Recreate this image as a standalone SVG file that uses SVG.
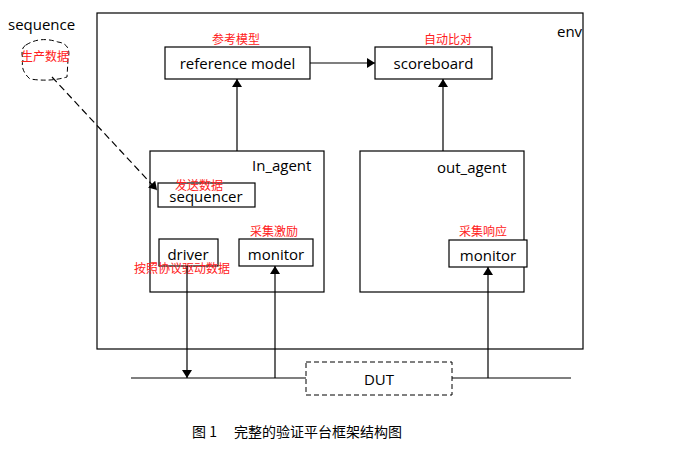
<svg xmlns="http://www.w3.org/2000/svg" width="691" height="451" viewBox="0 0 691 451">
<defs><marker id="ah" markerWidth="8" markerHeight="10" refX="8" refY="5" orient="auto" markerUnits="userSpaceOnUse"><path d="M0,0 L8,5 L0,10 z" fill="#000"/></marker></defs>
<style>
.b{fill:#fff;stroke:#000;stroke-width:1.2}
.t{font-family:"Open Sans","DejaVu Sans",sans-serif;font-size:15px;fill:#000}
.r{font-family:"Noto Sans CJK SC",sans-serif;font-size:12px;fill:#ff2020}
.l{stroke:#000;stroke-width:1.2;fill:none}
</style>
<rect width="691" height="451" fill="#fff"/>
<g id="env"><rect class="b" x="97" y="13" width="486" height="336"/><text class="t" x="557" y="37">env</text></g>
<g id="sequence"><text class="t" x="8" y="30">sequence</text><path d="M26,45 Q40,36 58,42 Q72,44 68,60 L67,77 Q50,82 30,79 Q20,70 23,60 Q20,48 26,45 z" fill="none" stroke="#000" stroke-dasharray="5,3"/><text class="r" x="21" y="61">生产数据</text></g>
<g id="refmodel"><rect class="b" x="165" y="47" width="145" height="32"/><text class="t" x="237.5" y="69" text-anchor="middle">reference model</text><text class="r" x="212" y="44">参考模型</text></g>
<g id="scoreboard"><rect class="b" x="375" y="47" width="117" height="32"/><text class="t" x="433.5" y="69" text-anchor="middle">scoreboard</text><text class="r" x="424" y="44">自动比对</text></g>
<g id="in_agent"><rect class="b" x="150" y="151" width="174" height="141"/><text class="t" x="252" y="171">In_agent</text></g>
<g id="sequencer"><rect class="b" x="158" y="183" width="97" height="24"/><text class="t" x="206" y="202" text-anchor="middle">sequencer</text><text class="r" x="175" y="190">发送数据</text></g>
<g id="driver"><rect class="b" x="159" y="239" width="59" height="27"/><text class="t" x="188" y="260" text-anchor="middle">driver</text><text class="r" x="134" y="273">按照协议驱动数据</text></g>
<g id="monitor_in"><rect class="b" x="239" y="239" width="74" height="27"/><text class="t" x="276" y="260" text-anchor="middle">monitor</text><text class="r" x="250" y="236">采集激励</text></g>
<g id="out_agent"><rect class="b" x="360" y="151" width="164" height="141"/><text class="t" x="437" y="173">out_agent</text></g>
<g id="monitor_out"><rect class="b" x="449" y="240" width="78" height="27"/><text class="t" x="488" y="261" text-anchor="middle">monitor</text><text class="r" x="459" y="236">采集响应</text></g>
<g id="dut"><rect x="306" y="362" width="146" height="33" fill="#fff" stroke="#000" stroke-dasharray="5,3"/><text class="t" x="379" y="385" text-anchor="middle">DUT</text></g>
<g id="connectors">
<path class="l" d="M131,378 H306 M452,378 H571"/>
<path class="l" d="M52,77 L157,190" stroke-dasharray="7,4" marker-end="url(#ah)"/>
<path class="l" d="M310,63 H375" marker-end="url(#ah)"/>
<path class="l" d="M237,151 V79" marker-end="url(#ah)"/>
<path class="l" d="M443,151 V79" marker-end="url(#ah)"/>
<path class="l" d="M187,266 V378" marker-end="url(#ah)"/>
<path class="l" d="M275,378 V266" marker-end="url(#ah)"/>
<path class="l" d="M488,378 V267" marker-end="url(#ah)"/>
</g>
<text x="192" y="437" font-family="Noto Sans CJK SC,sans-serif" font-size="14">图 1　 完整的验证平台框架结构图</text>
</svg>
